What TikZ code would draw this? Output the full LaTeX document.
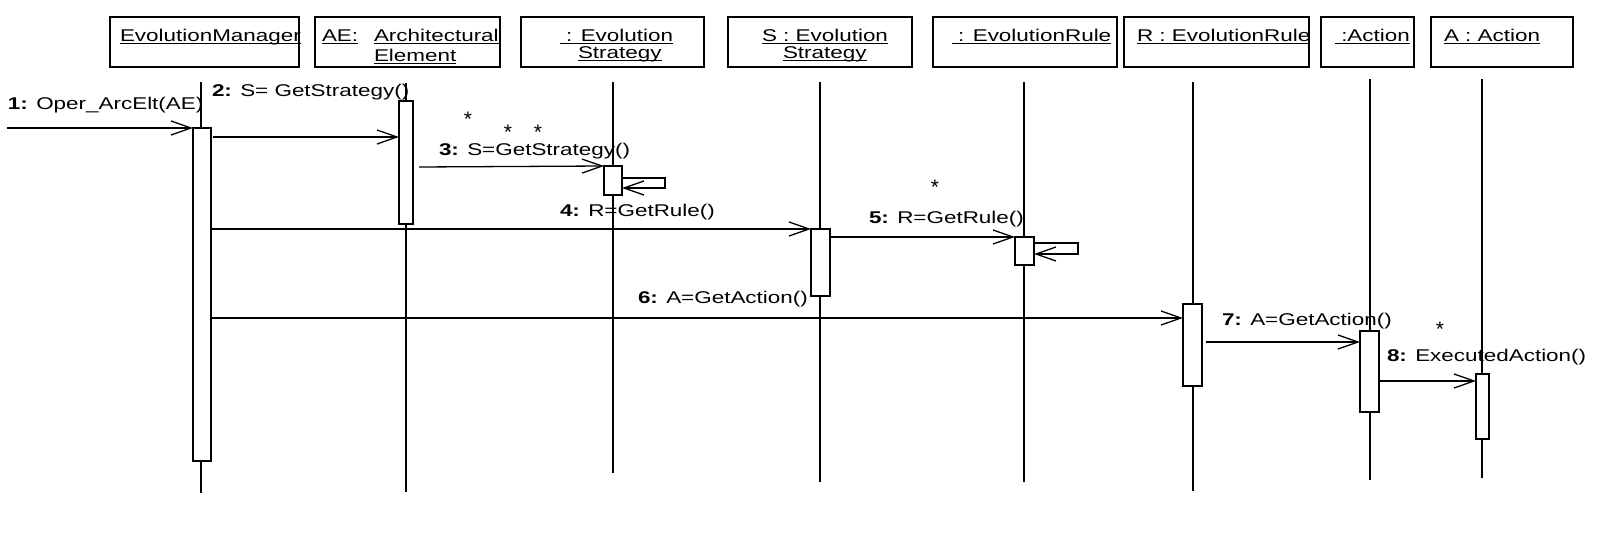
\documentclass[tikz,border=0pt]{standalone}
\usepackage{fontspec}
\setmainfont{Liberation Sans}
\usepackage{graphicx}
\usetikzlibrary{arrows.meta}
\newcommand\wtxt[1]{\scalebox{1.32}[1]{#1}}
\newcommand\ulx[1]{\setbox0\hbox{#1}\rlap{\rule[-2.2pt]{\wd0}{0.9pt}}\box0}
\begin{document}
\begin{tikzpicture}[x=1pt,y=-1pt,
  every node/.style={inner sep=0pt, outer sep=0pt, font=\fontsize{17}{20}\selectfont},
  hdr/.style={draw, line width=1.7pt, anchor=north west, minimum height=50pt},
  life/.style={line width=1.7pt},
  actbox/.style={draw, fill=white, line width=1.7pt, anchor=north west},
  msg/.style={line width=1.3pt, -{Straight Barb[length=20pt,width=14pt,line width=1.3pt]}},
  lbl/.style={anchor=base west},
  clbl/.style={anchor=base, font=\fontsize{21}{24}\selectfont},
]
\useasboundingbox (0,0) rectangle (1601,545);
% header boxes
\node[hdr, minimum width=189pt] (em) at (110,17) {};
\node[hdr, minimum width=185pt] (ae) at (315,17) {};
\node[hdr, minimum width=183pt] (es) at (521,17) {};
\node[hdr, minimum width=184pt] (ses) at (728,17) {};
\node[hdr, minimum width=184pt] (er) at (933,17) {};
\node[hdr, minimum width=185pt] (rer) at (1124,17) {};
\node[hdr, minimum width=93pt] (act) at (1321,17) {};
\node[hdr, minimum width=142pt] (aact) at (1431,17) {};
% header texts
\node[lbl] (emT) at (120,42) {\wtxt{\ulx{EvolutionManager}}};
\node[lbl] (aeT1) at (322,42) {\wtxt{\ulx{AE:}}};
\node[lbl] (aeT2) at (374,42) {\wtxt{\ulx{Architectural}}};
\node[lbl] (aeT3) at (374,62) {\wtxt{\ulx{Element}}};
\node[lbl] (esT1) at (560,42) {\wtxt{\ulx{\ : Evolution}}};
\node[lbl] (esT2) at (578,59) {\wtxt{\ulx{Strategy}}};
\node[lbl] (sesT1) at (762,42) {\wtxt{\ulx{S : Evolution}}};
\node[lbl] (sesT2) at (783,59) {\wtxt{\ulx{Strategy}}};
\node[lbl] (erT) at (952,42) {\wtxt{\ulx{\ : EvolutionRule}}};
\node[lbl] (rerT) at (1137,42) {\wtxt{\ulx{R : EvolutionRule}}};
\node[lbl] (actT) at (1335,42) {\wtxt{\ulx{\ :Action}}};
\node[lbl] (aactT) at (1444,42) {\wtxt{\ulx{A : Action}}};
% lifelines
\coordinate (emL1) at (201,82);   \coordinate (emL2) at (201,493);
\coordinate (aeL1) at (406,83);   \coordinate (aeL2) at (406,492);
\coordinate (esL1) at (613,82);   \coordinate (esL2) at (613,473);
\coordinate (sesL1) at (820,82);  \coordinate (sesL2) at (820,482);
\coordinate (erL1) at (1024,82);  \coordinate (erL2) at (1024,482);
\coordinate (rerL1) at (1193,82); \coordinate (rerL2) at (1193,491);
\coordinate (actL1) at (1370,79); \coordinate (actL2) at (1370,480);
\coordinate (aactL1) at (1482,79);\coordinate (aactL2) at (1482,478);
\draw[life] (emL1) -- (emL2);
\draw[life] (aeL1) -- (aeL2);
\draw[life] (esL1) -- (esL2);
\draw[life] (sesL1) -- (sesL2);
\draw[life] (erL1) -- (erL2);
\draw[life] (rerL1) -- (rerL2);
\draw[life] (actL1) -- (actL2);
\draw[life] (aactL1) -- (aactL2);
% activation boxes
\node[actbox, minimum width=18pt, minimum height=333pt] (emAct) at (193,128) {};
\node[actbox, minimum width=14pt, minimum height=123pt] (aeAct) at (399,101) {};
\node[actbox, minimum width=18pt, minimum height=29pt] (esAct) at (604,166) {};
\node[actbox, minimum width=19pt, minimum height=67pt] (sesAct) at (811,229) {};
\node[actbox, minimum width=19pt, minimum height=28pt] (erAct) at (1015,237) {};
\node[actbox, minimum width=19pt, minimum height=82pt] (rerAct) at (1183,304) {};
\node[actbox, minimum width=19pt, minimum height=81pt] (actAct) at (1360,331) {};
\node[actbox, minimum width=13pt, minimum height=65pt] (aAct) at (1476,374) {};
% message levels
\coordinate (start) at (7,128);
\coordinate (y2) at (0,137);
\coordinate (y3) at (0,167);
\coordinate (y3a) at (0,178);
\coordinate (y3b) at (0,188);
\coordinate (y4) at (0,229);
\coordinate (y5) at (0,237);
\coordinate (y5a) at (0,243);
\coordinate (y5b) at (0,254);
\coordinate (y6) at (0,318);
\coordinate (y7) at (0,342);
\coordinate (y8) at (0,381);
% messages
\draw[msg] (start) -- (emAct.north west);
\draw[msg] ([xshift=2pt]emAct.east |- y2) -- (aeAct.west |- y2);
\draw[msg] ([xshift=6pt]aeAct.east |- y3) -- (esAct.north west);
\draw[msg] (esAct.east |- y3a) -- ++(43,0) -- ++(0,10) -- (esAct.east |- y3b);
\draw[msg] (emAct.east |- y4) -- (sesAct.north west);
\draw[msg] (sesAct.east |- y5) -- (erAct.west |- y5);
\draw[msg] (erAct.east |- y5a) -- ++(44,0) -- ++(0,11) -- (erAct.east |- y5b);
\draw[msg] (emAct.east |- y6) -- (rerAct.west |- y6);
\draw[msg] ([xshift=4pt]rerAct.east |- y7) -- (actAct.west |- y7);
\draw[msg, line width=1.8pt] (actAct.east |- y8) -- (aAct.west |- y8);
% labels
\node[lbl] (m1) at (8,110) {\wtxt{\textbf{1:} Oper\_ArcElt(AE)}};
\node[lbl] (m2) at (212,97) {\wtxt{\textbf{2:} S= GetStrategy()}};
\node[lbl] (m3) at (439,156) {\wtxt{\textbf{3:} S=GetStrategy()}};
\node[lbl] (m4) at (560,217) {\wtxt{\textbf{4:} R=GetRule()}};
\node[lbl] (m5) at (869,224) {\wtxt{\textbf{5:} R=GetRule()}};
\node[lbl] (m6) at (638,304) {\wtxt{\textbf{6:} A=GetAction()}};
\node[lbl] (m7) at (1222,326) {\wtxt{\textbf{7:} A=GetAction()}};
\node[lbl] (m8) at (1387,361) {\wtxt{\textbf{8:} ExecutedAction()}};
% asterisks
\node[clbl] (s1) at (468,127) {*};
\node[clbl] (s2) at (508,140) {*};
\node[clbl] (s3) at (538,140) {*};
\node[clbl] (s4) at (935,195) {*};
\node[clbl] (s5) at (1440,337) {*};
\end{tikzpicture}
\end{document}
